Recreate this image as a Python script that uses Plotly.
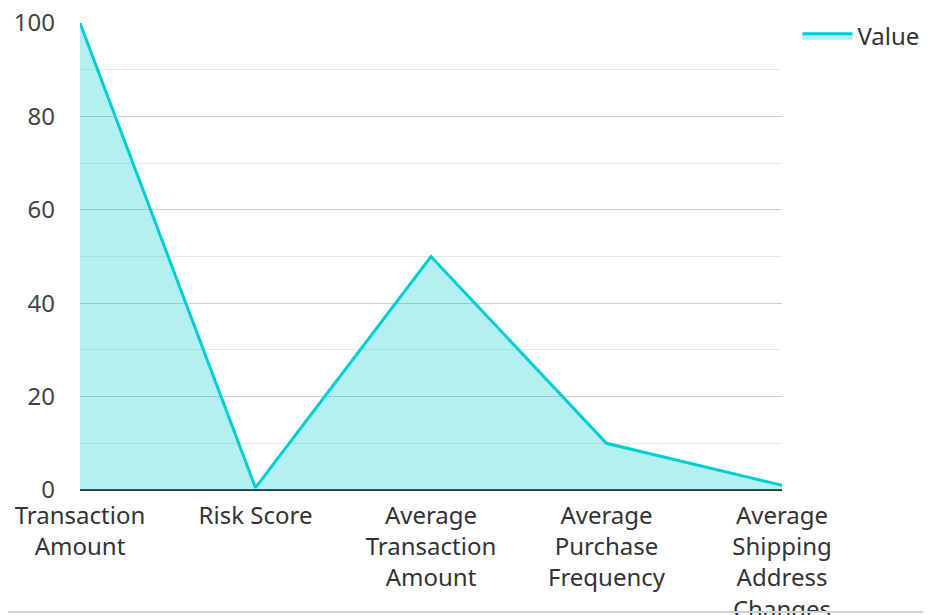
import plotly.graph_objects as go

categories = ["Transaction<br>Amount", "Risk Score", "Average<br>Transaction<br>Amount",
              "Average<br>Purchase<br>Frequency", "Average<br>Shipping<br>Address<br>Changes"]
values = [100, 0.5, 50, 10, 1]
series_name = "Value"
y_ticks = [0, 20, 40, 60, 80, 100]

fig = go.Figure()
fig.add_trace(go.Scatter(
    x=categories, y=values, name=series_name, mode="lines",
    line=dict(color="#00CED1", width=3),
    fill="tozeroy", fillcolor="rgba(0,206,209,0.3)",
))

fnt = dict(family="Noto Sans", size=24, color="#333333")
fig.update_layout(
    width=923, height=607,
    margin=dict(l=72, r=149, t=15, b=125, autoexpand=False),
    paper_bgcolor="white", plot_bgcolor="white",
    font=fnt,
    showlegend=True,
    legend=dict(x=1.022, y=1.02, xanchor="left", yanchor="top",
                font=fnt, itemwidth=50,
                bgcolor="rgba(0,0,0,0)"),
    xaxis=dict(range=[0, 4], showgrid=False, zeroline=False, showline=False,
               ticks="", tickfont=fnt, automargin=False, ticklabelstandoff=9,
               ticklabeloverflow="allow", fixedrange=True),
    yaxis=dict(range=[0, 100], tickvals=y_ticks, showgrid=True, gridcolor="#cccccc",
               gridwidth=1, zeroline=True, zerolinecolor="#333333", zerolinewidth=2,
               minor=dict(dtick=10, showgrid=True, gridcolor="#e8e8e8", gridwidth=1),
               tickfont=dict(family="Noto Sans", size=24, color="#444444"),
               ticks="", ticklabelstandoff=24, automargin=False,
               ticklabeloverflow="allow"),
)
fig.add_shape(type="line", xref="paper", yref="paper",
              x0=-0.12, x1=1.22, y0=-0.261, y1=-0.261,
              line=dict(color="#d0d0d0", width=2))

fig.write_html("out.html")
